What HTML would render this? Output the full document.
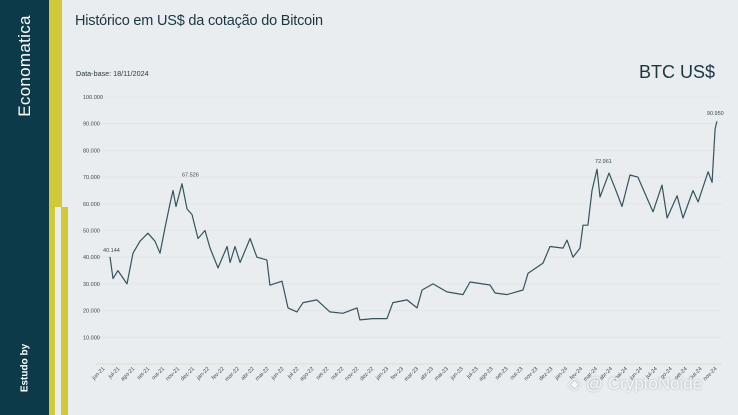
<!DOCTYPE html>
<html><head><meta charset="utf-8">
<style>
body{margin:0;width:738px;height:415px;overflow:hidden;background:#e9edf0;font-family:"Liberation Sans",sans-serif;position:relative}
.abs{position:absolute}
</style></head>
<body>
<div class="abs" style="left:0;top:0;width:49px;height:415px;background:#0c3a48"></div>
<div class="abs" style="left:49px;top:0;width:13px;height:415px;background:#d2c93a"></div>
<div class="abs" style="left:55px;top:207px;width:6px;height:208px;background:#e9edf0"></div>
<div class="abs" style="left:62px;top:207px;width:6px;height:208px;background:#d2c93a"></div>
<div class="abs" style="left:25px;top:66px;transform:translate(-50%,-50%) rotate(-90deg);color:#fff;font-size:17px;white-space:nowrap;letter-spacing:0.3px">Economatica</div>
<div class="abs" style="left:25px;top:368px;transform:translate(-50%,-50%) rotate(-90deg);color:#fff;font-size:10px;font-weight:bold;white-space:nowrap">Estudo by</div>
<div class="abs" style="left:75px;top:13px;font-size:14.5px;letter-spacing:-0.2px;color:#1c3641">Histórico em US$ da cotação do Bitcoin</div>
<div class="abs" style="left:76px;top:69px;font-size:7.2px;color:#2a3a40">Data-base: 18/11/2024</div>
<div class="abs" style="left:639px;top:62px;font-size:18px;color:#1c3641">BTC US$</div>
<svg class="abs" style="left:0;top:0" width="738" height="415" id="chart"></svg>
<div class="abs" style="left:568px;top:374px;font-size:17px;color:#f4f6f7;text-shadow:0 0 2px #9aa;white-space:nowrap">◈ @ CryptoNoide</div>
<script>
const yTicks=[10000,20000,30000,40000,50000,60000,70000,80000,90000,100000];
const yTickLabels=["10.000","20.000","30.000","40.000","50.000","60.000","70.000","80.000","90.000","100.000"];
const months=["jun-21","jul-21","ago-21","set-21","out-21","nov-21","dez-21","jan-22","fev-22","mar-22","abr-22","mai-22","jun-22","jul-22","ago-22","set-22","out-22","nov-22","dez-22","jan-23","fev-23","mar-23","abr-23","mai-23","jun-23","jul-23","ago-23","set-23","out-23","nov-23","dez-23","jan-24","fev-24","mar-24","abr-24","mai-24","jun-24","jul-24","ago-24","set-24","out-24","nov-24"];
const t=[0.47,0.67,1.0,1.61,2.01,2.48,3.01,3.48,3.82,4.15,4.49,4.69,4.89,5.29,5.63,5.96,6.36,6.83,7.17,7.7,8.31,8.51,8.84,9.18,9.85,10.31,10.98,11.18,11.99,12.39,12.99,13.4,14.33,15.2,16.07,17.01,17.21,18.08,19.02,19.42,20.36,21.03,21.37,22.1,23.04,24.11,24.58,25.92,26.26,27.06,28.13,28.47,29.47,29.94,30.81,31.08,31.48,31.95,32.15,32.48,32.75,33.09,33.29,33.89,34.29,34.76,35.3,35.83,36.5,36.84,37.44,37.78,38.45,38.85,39.52,39.86,40.53,40.8,40.87,41.0,41.12];
const price=[40144,32000,35000,30000,41500,46000,49000,46000,41500,51000,60000,65000,59000,67526,58000,56000,47000,50000,43500,36000,44000,38000,44000,38000,47000,40000,39000,29500,31000,21000,19500,23000,24000,19500,19000,21000,16500,17000,17000,23000,24000,21000,27700,30000,27000,26000,30700,29600,26600,26000,27700,34000,37800,44000,43400,46400,40000,43400,52000,52000,65000,72961,62500,71500,66000,59000,70800,70000,61400,57000,67000,54700,63000,54700,65000,60700,72000,68000,75600,88000,90950];
const notes=[[0,"40.144",-7,-5],[13,"67.526",0,-7],[61,"72.961",-2,-6],[80,"90.950",-10,-6]];
const svg=document.getElementById('chart');
const NS='http://www.w3.org/2000/svg';
const X=m=>103+m*14.93;
const Y=v=>364-v/10000*26.7;
function mk(tag,at){const e=document.createElementNS(NS,tag);for(const k in at)e.setAttribute(k,at[k]);svg.appendChild(e);return e;}
yTicks.forEach((v,i)=>{
 const g=mk('line',{x1:96,x2:722,y1:Y(v),y2:Y(v),stroke:'#dfe4e7','stroke-width':0.8});
 
 
 const tx=mk('text',{x:83,y:Y(v)+2,'font-size':5.5,fill:'#3d4a50','font-family':'Liberation Sans, sans-serif'});
 tx.textContent=yTickLabels[i];
 
 
});
const ax=mk('line',{x1:96,x2:722,y1:364,y2:364,stroke:'#dde3d0','stroke-width':1.2});


months.forEach((m,i)=>{
 const tx=mk('text',{x:X(i)+2,y:369,'font-size':5.5,fill:'#3d4a50','text-anchor':'end','font-family':'Liberation Sans, sans-serif',transform:`rotate(-45 ${X(i)+2} 369)`});
 tx.textContent=m;
 
 
});
const d=t.map((m,i)=>(i?'L':'M')+X(m).toFixed(1)+' '+Y(price[i]).toFixed(1)).join(' ');
const p=mk('path',{d:d,fill:'none',stroke:'#36545c','stroke-width':1.2,'stroke-linejoin':'round'});


notes.forEach(n=>{
 const i=n[0];
 const tx=mk('text',{x:X(t[i])+n[2],y:Y(price[i])+n[3],'font-size':5.5,fill:'#3d4a50','font-family':'Liberation Sans, sans-serif'});
 tx.textContent=n[1];
 
 
});
</script>
</body></html>
